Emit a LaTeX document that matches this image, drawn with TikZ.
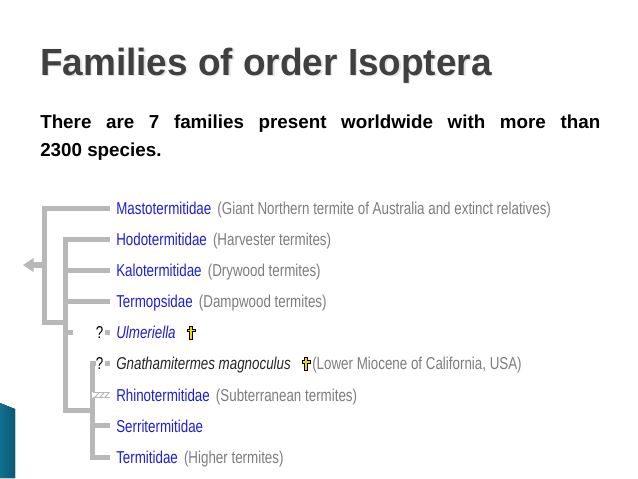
\documentclass[tikz,border=0pt]{standalone}
\usepackage{fontspec}
\setmainfont{Liberation Sans}
\newfontfamily\narrowfont[FakeStretch=0.777]{Liberation Sans}
\newfontfamily\titlefont[FakeStretch=0.975]{Liberation Sans}
\definecolor{branch}{RGB}{184,184,184}
\definecolor{famblue}{RGB}{30,30,215}
\definecolor{descgray}{RGB}{125,125,125}
\definecolor{titlegray}{RGB}{64,64,64}
\definecolor{tealA}{RGB}{16,112,142}
\definecolor{tealB}{RGB}{10,88,116}
\definecolor{crossyellow}{RGB}{245,215,0}
\tikzset{
  br/.style={draw=branch,line width=3.75pt},
  treetext/.style={anchor=base west,inner sep=0pt,font=\narrowfont\fontsize{12.9pt}{14pt}\selectfont},
  qmark/.style={anchor=base east,inner sep=0pt,font=\narrowfont\fontsize{12.9pt}{14pt}\selectfont,text=black},
  stubsq/.style={fill=branch,draw=none},
  extinctmark/.pic={
    \filldraw[fill=crossyellow,draw=black,line width=0.35pt]
      (-1.3,6.5) -- (-1.3,-0.8) -- (-4.2,-0.8) -- (-4.2,-3.2) -- (-1.3,-3.2) -- (-1.3,-6.5)
      -- (1.3,-6.5) -- (1.3,-3.2) -- (4.2,-3.2) -- (4.2,-0.8) -- (1.3,-0.8) -- (1.3,6.5) -- cycle;
  }
}
\newcommand{\famname}[1]{{\color{famblue}#1}}
\newcommand{\dscname}[1]{{\color{descgray}#1}}
\begin{document}
\begin{tikzpicture}[x=0.75pt,y=-0.75pt]
\useasboundingbox (0,0) rectangle (638,478);
\fill[white] (0,0) rectangle (638,478);

% teal corner
\fill[left color=tealA,right color=tealB] (0,403) -- (15,409) -- (15,478) -- (0,478) -- cycle;

% title
\node[anchor=base west,inner sep=0pt,text=black!25,opacity=0.45,font=\titlefont\bfseries\fontsize{28.4pt}{30pt}\selectfont] (titleshadow) at (41.5,76.5) {Families of order Isoptera};
\node[anchor=base west,inner sep=0pt,text=titlegray,font=\titlefont\bfseries\fontsize{28.4pt}{30pt}\selectfont] (title) at (40,75) {Families of order Isoptera};

% body text
\node[anchor=base west,inner sep=0pt,text width=420pt,align=justify,font=\bfseries\fontsize{14.1pt}{21pt}\selectfont] (body) at (40,128)
  {There are 7 families present worldwide with more than\linebreak 2300 species.};

% rows
\def\ra{208}\def\rb{239.1}\def\rc{270.3}\def\rd{301.4}\def\re{332.5}
\def\rf{363.6}\def\rg{394.7}\def\rh{425.8}\def\ri{457}

% tree branches
\coordinate (root) at (44.5,265);
\draw[br] (110,\ra) -- (44.5,\ra) -- (44.5,322) -- (65.5,322);
\draw[br] (110,\rb) -- (65.5,\rb) -- (65.5,410) -- (92,410);
\draw[br] (65.5,\rc) -- (110,\rc);
\draw[br] (65.5,\rd) -- (110,\rd);
\draw[br] (65.5,\re) -- (73,\re);
\draw[br] (96,\rf) -- (92,\rf) -- (92,\ri) -- (110,\ri);
\draw[br] (92,\rh) -- (110,\rh);

% root arrow
\fill[branch] (23,265) -- (33.5,258) -- (33.5,272) -- cycle;
\draw[draw=branch,line width=4.5pt] (33,265) -- (root);

% unknown-position stubs
\node[qmark] (q1) at (103.5,\re+6) {?};
\fill[stubsq] (104.5,\re-2.5) rectangle (110,\re+2.5);
\node[qmark] (q2) at (103.5,\rf+6) {?};
\fill[stubsq] (104.5,\rf-2.5) rectangle (110,\rf+2.5);

% hatched stub (Rhinotermitidae)
\fill[white] (92,\rg-3) rectangle (110,\rg+3);
\draw[branch,line width=0.9pt] (93,\rg-2.6) -- (110,\rg-2.6);
\draw[branch,line width=0.9pt] (93,\rg+2.6) -- (110,\rg+2.6);
\foreach \xx in {95,100,105} {
  \draw[branch,line width=0.8pt] (\xx,\rg+2.6) -- (\xx+4.5,\rg-2.6);
}

% labels
\node[treetext] (masto) at (116,\ra+6.3) {\famname{Mastotermitidae}\hspace{4.6pt}\dscname{(Giant Northern termite of Australia and extinct relatives)}};
\node[treetext] (hodo) at (116,\rb+6.3) {\famname{Hodotermitidae}\hspace{4.6pt}\dscname{(Harvester termites)}};
\node[treetext] (kalo) at (116,\rc+6.3) {\famname{Kalotermitidae}\hspace{4.6pt}\dscname{(Drywood termites)}};
\node[treetext] (termop) at (116,\rd+6.3) {\famname{Termopsidae}\hspace{4.6pt}\dscname{(Dampwood termites)}};
\node[treetext] (ulm) at (116,\re+6.3) {\famname{\itshape Ulmeriella}};
\pic at (191,\re) {extinctmark};
\node[treetext] (gnatha) at (116,\rf+6.3) {\color{black!85}\itshape Gnathamitermes magnoculus};
\pic at (306,\rf) {extinctmark};
\node[treetext] (gnathadesc) at (312,\rf+6.3) {\dscname{(Lower Miocene of California, USA)}};
\node[treetext] (rhino) at (116,\rg+6.3) {\famname{Rhinotermitidae}\hspace{4.6pt}\dscname{(Subterranean termites)}};
\node[treetext] (serri) at (116,\rh+6.3) {\famname{Serritermitidae}};
\node[treetext] (termit) at (116,\ri+6.3) {\famname{Termitidae}\hspace{4.6pt}\dscname{(Higher termites)}};
\end{tikzpicture}
\end{document}
